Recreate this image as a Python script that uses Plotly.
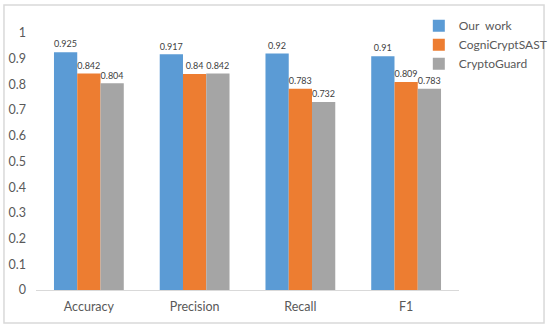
import plotly.graph_objects as go

categories = ["Accuracy", "Precision", "Recall", "F1"]
series_names = ["Our  work", "CogniCryptSAST", "CryptoGuard"]
our_work = [0.925, 0.917, 0.92, 0.91]
cognicrypt = [0.842, 0.84, 0.783, 0.809]
cryptoguard = [0.804, 0.842, 0.732, 0.783]
colors = ["#5B9BD5", "#ED7D31", "#A5A5A5"]
y_ticks = [0, 0.1, 0.2, 0.3, 0.4, 0.5, 0.6, 0.7, 0.8, 0.9, 1]
y_tick_labels = ["0", "0.1", "0.2", "0.3", "0.4", "0.5", "0.6", "0.7", "0.8", "0.9", "1"]

FONT = "Lato"

fig = go.Figure()
for name, vals, col in zip(series_names, [our_work, cognicrypt, cryptoguard], colors):
    fig.add_trace(go.Bar(
        x=categories, y=vals, name=name,
        marker=dict(color=col, line=dict(width=0)),
        text=[str(v) for v in vals], textposition="outside",
        textfont=dict(size=10, color="#404040", family=FONT),
        cliponaxis=False,
    ))

fig.update_layout(
    width=550, height=330,
    margin=dict(l=36, r=91, t=33, b=40, autoexpand=False),
    paper_bgcolor="white", plot_bgcolor="white",
    barmode="group", bargap=0.34, bargroupgap=0,
    font=dict(family=FONT, color="#595959", size=12),
    legend=dict(x=0.905, y=1.085, xanchor="left", yanchor="top",
                font=dict(size=12, color="#595959", family=FONT),
                itemwidth=30, bgcolor="rgba(0,0,0,0)"),
    xaxis=dict(showline=True, linecolor="#D9D9D9", linewidth=1,
               ticks="", showgrid=False, tickfont=dict(size=12.5),
               ticklabelstandoff=5, automargin=False),
    yaxis=dict(range=[0, 1], tickvals=y_ticks, ticktext=y_tick_labels,
               showgrid=False, zeroline=False, showline=False, automargin=False,
               ticks="", ticklabelstandoff=9, tickfont=dict(size=12.5)),
    uniformtext=dict(minsize=8, mode="show"),
    shapes=[dict(type="rect", xref="paper", yref="paper",
                 x0=-0.0757, x1=1.201, y0=-0.128, y1=1.109,
                 line=dict(color="#D9D9D9", width=1.5), fillcolor="rgba(0,0,0,0)",
                 layer="below")],
)

fig.write_html("out.html", config={"displayModeBar": False},
               post_script="document.body.style.margin='0px';document.body.style.overflow='hidden';")
